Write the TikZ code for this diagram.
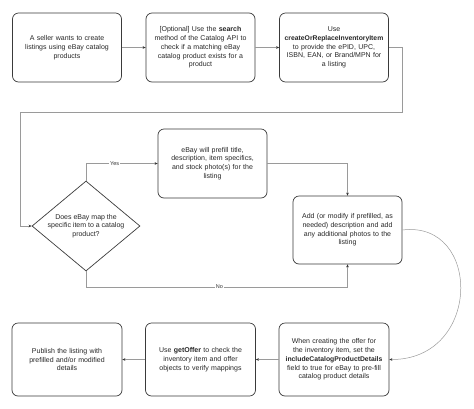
\documentclass[tikz,border=0pt]{standalone}
\usepackage{fontspec}
\setmainfont{Liberation Sans}
\usetikzlibrary{shapes.geometric,arrows.meta}
\definecolor{boxline}{HTML}{3A3A3A}
\definecolor{conn}{HTML}{9A9A9A}
\begin{document}
\begin{tikzpicture}[x=1pt,y=-1pt,
  stepbox/.style={draw=boxline,line width=0.7pt,rounded corners=6pt,minimum width=109pt,minimum height=69pt,inner sep=0pt,align=center,text width=106pt,font=\fontsize{7}{8.7}\selectfont,text=black!85},
  conn/.style={draw=conn,line width=0.5pt,-{Stealth[length=3pt,width=2.6pt,color=black!80]}},
  lbl/.style={fill=white,inner sep=1pt,font=\fontsize{5.5}{6}\selectfont,text=black!80}]
\useasboundingbox (0,0) rectangle (474,408);
\node[stepbox] (b1) at (67,47.5) {A seller wants to create\\listings using eBay catalog\\products};
\node[stepbox] (b2) at (200.5,47.5) {[Optional] Use the \textbf{search}\\method of the Catalog API to\\check if a matching eBay\\catalog product exists for a\\product};
\node[stepbox] (b3) at (334,47.5) {Use\\{\fontsize{6.8}{8.7}\selectfont\textbf{createOrReplaceInventoryItem}}\\to provide the ePID, UPC,\\ISBN, EAN, or Brand/MPN for\\a listing};
\node[diamond,draw=boxline,line width=0.7pt,minimum width=108pt,minimum height=90pt,inner sep=0pt] (d) at (86,226) {};
\node[align=center,font=\fontsize{7}{8.7}\selectfont,text=black!85,inner sep=0pt] (dt) at (d.center) {Does eBay map the\\specific item to a catalog\\product?};
\node[stepbox] (b4) at (212.5,163.5) {eBay will prefill title,\\description, item specifics,\\and stock photo(s) for the\\listing};
\node[stepbox,minimum height=68pt] (b5) at (347.5,230) {Add (or modify if prefilled, as\\needed) description and add\\any additional photos to the\\listing};
\node[stepbox,minimum width=110pt,minimum height=73pt] (b6) at (334,359.5) {When creating the offer for\\the inventory item, set the\\{\fontsize{6.8}{8.7}\selectfont\textbf{includeCatalogProductDetails}}\\field to true for eBay to pre-fill\\catalog product details};
\node[stepbox,minimum width=110pt,minimum height=73pt] (b7) at (200.5,359.5) {Use \textbf{getOffer} to check the\\inventory item and offer\\objects to verify mappings};
\node[stepbox,minimum width=110pt,minimum height=73pt] (b8) at (67,359.5) {Publish the listing with\\prefilled and/or modified\\details};
\coordinate (c1) at (402,47.5);
\coordinate (c2) at (402,112);
\coordinate (c3) at (20,112);
\coordinate (c4) at (20,226);
\coordinate (c5) at (86,287);
\coordinate (c6) at (347.5,287);
\draw[conn] (b1) -- (b2);
\draw[conn] (b2) -- (b3);
\draw[conn] (b3.east) -- (c1) -- (c2) -- (c3) -- (c4) -- (d.west);
\draw[conn] (d.north) |- node[lbl,pos=0.7]{Yes} (b4.west);
\draw[conn] (b4.east) -| (b5.north);
\draw[conn] (d.south) -- (c5) -- node[lbl,pos=0.51]{No} (c6) -- (b5.south);
\draw[conn] (b5.east) .. controls (482,220) and (482,360) .. (b6.east);
\draw[conn] (b6) -- (b7);
\draw[conn] (b7) -- (b8);
\end{tikzpicture}
\end{document}
